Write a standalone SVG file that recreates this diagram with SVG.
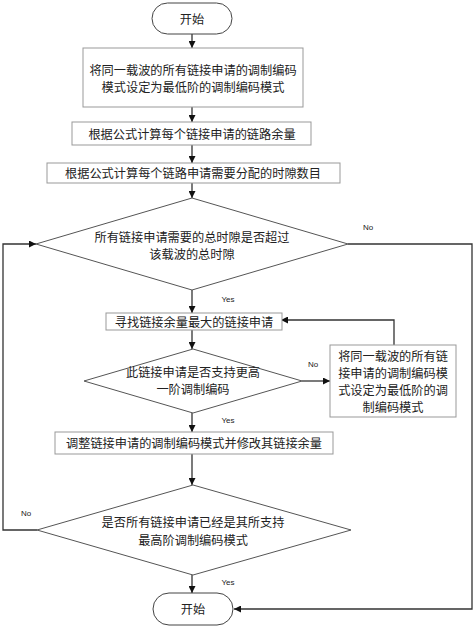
<svg xmlns="http://www.w3.org/2000/svg" width="474" height="628" viewBox="0 0 474 628">
<style>
.t{font-family:"Noto Sans CJK SC","Noto Sans",sans-serif;font-size:12.2px;fill:#222;text-anchor:middle;dominant-baseline:central}
.s{font-family:"Liberation Sans",Arial,sans-serif;font-size:8px;fill:#222;text-anchor:middle;dominant-baseline:central}
.box{fill:#fff;stroke:#999;stroke-width:1}
.dia{fill:#fff;stroke:#555;stroke-width:1}
.term{fill:#fff;stroke:#444;stroke-width:1}
.ln{fill:none;stroke:#333;stroke-width:1.3}
</style>
<defs>
<marker id="ah" viewBox="0 0 10 10" refX="10" refY="5" markerWidth="7" markerHeight="7" markerUnits="userSpaceOnUse" orient="auto">
<path d="M0,0 L10,5 L0,10 z" fill="#111"/>
</marker>
</defs>
<rect width="474" height="628" fill="#fff"/>
<g id="connectors">
<line class="ln" x1="192" y1="34" x2="192" y2="48" marker-end="url(#ah)"/>
<line class="ln" x1="192" y1="107" x2="192" y2="122" marker-end="url(#ah)"/>
<line class="ln" x1="192" y1="145" x2="192" y2="163" marker-end="url(#ah)"/>
<line class="ln" x1="192" y1="183" x2="192" y2="198" marker-end="url(#ah)"/>
<line class="ln" x1="192" y1="290" x2="192" y2="313" marker-end="url(#ah)"/>
<line class="ln" x1="192" y1="330" x2="192" y2="349" marker-end="url(#ah)"/>
<line class="ln" x1="302" y1="381" x2="330" y2="381" marker-end="url(#ah)"/>
<polyline class="ln" points="394,345 394,320 281,320" marker-end="url(#ah)"/>
<line class="ln" x1="192" y1="413" x2="192" y2="432" marker-end="url(#ah)"/>
<line class="ln" x1="192" y1="454" x2="192" y2="485" marker-end="url(#ah)"/>
<line class="ln" x1="192" y1="575" x2="192" y2="593" marker-end="url(#ah)"/>
<polyline class="ln" points="37,530 3,530 3,244 36,244" marker-end="url(#ah)"/>
<polyline class="ln" points="348,244 472,244 472,609 234,609" marker-end="url(#ah)"/>
<text class="s" x="368" y="227">No</text>
<text class="s" x="228" y="299">Yes</text>
<text class="s" x="313" y="364">No</text>
<text class="s" x="228" y="420">Yes</text>
<text class="s" x="26" y="513">No</text>
<text class="s" x="228" y="582">Yes</text>
</g>
<g id="start">
<rect class="term" x="152" y="3" width="80" height="31" rx="15.5"/>
<text class="t" x="192" y="18.5">开始</text>
</g>
<g id="box1">
<rect class="box" x="83" y="48" width="220" height="59"/>
<text class="t" x="193" y="69.5">将同一载波的所有链接申请的调制编码</text>
<text class="t" x="193" y="87">模式设定为最低阶的调制编码模式</text>
</g>
<g id="box2">
<rect class="box" x="72" y="122" width="239" height="23"/>
<text class="t" x="192" y="134">根据公式计算每个链接申请的链路余量</text>
</g>
<g id="box3">
<rect class="box" x="47" y="163" width="293" height="20"/>
<text class="t" x="193" y="173">根据公式计算每个链路申请需要分配的时隙数目</text>
</g>
<g id="decision1">
<polygon class="dia" points="192,198 348,244 192,290 36,244"/>
<text class="t" x="192" y="236.5">所有链接申请需要的总时隙是否超过</text>
<text class="t" x="192" y="254">该载波的总时隙</text>
</g>
<g id="box4">
<rect class="box" x="106" y="313" width="176" height="17"/>
<text class="t" x="194" y="321.5">寻找链接余量最大的链接申请</text>
</g>
<g id="decision2">
<polygon class="dia" points="193,349 302,381 193,413 84,381"/>
<text class="t" x="193" y="371.5">此链接申请是否支持更高</text>
<text class="t" x="193" y="389">一阶调制编码</text>
</g>
<g id="box5">
<rect class="box" x="330" y="345" width="126" height="72"/>
<text class="t" x="393" y="356">将同一载波的所有链</text>
<text class="t" x="393" y="373">接申请的调制编码模</text>
<text class="t" x="393" y="390">式设定为最低阶的调</text>
<text class="t" x="393" y="407">制编码模式</text>
</g>
<g id="box6">
<rect class="box" x="55" y="432" width="278" height="22"/>
<text class="t" x="194" y="443">调整链接申请的调制编码模式并修改其链接余量</text>
</g>
<g id="decision3">
<polygon class="dia" points="193,485 351,530 193,575 37,530"/>
<text class="t" x="193" y="522">是否所有链接申请已经是其所支持</text>
<text class="t" x="193" y="540">最高阶调制编码模式</text>
</g>
<g id="end">
<rect class="term" x="153" y="593" width="80" height="32" rx="16"/>
<text class="t" x="193" y="609">开始</text>
</g>
</svg>
